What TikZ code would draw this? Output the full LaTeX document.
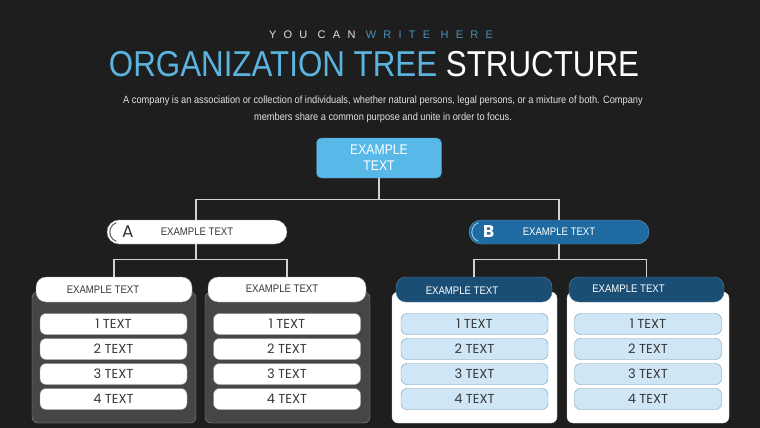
\documentclass[tikz,border=0pt]{standalone}
\usepackage{fontspec}
\setmainfont{Liberation Sans}
\newfontfamily\narrowfont[FakeStretch=0.87]{Liberation Sans}
\newfontfamily\parafont[FakeStretch=0.88]{Liberation Sans}
\newfontfamily\spacedfont[LetterSpace=66]{Liberation Sans}
\newfontfamily\geofont{Poppins}
\usetikzlibrary{calc}
\definecolor{bgdark}{RGB}{30,30,30}
\definecolor{titleblue}{RGB}{91,180,222}
\definecolor{subblue}{RGB}{74,144,184}
\definecolor{paragray}{RGB}{225,225,225}
\definecolor{linegray}{RGB}{210,210,210}
\definecolor{topfill}{RGB}{88,185,232}
\definecolor{barblue}{RGB}{31,106,160}
\definecolor{headblue}{RGB}{26,78,116}
\definecolor{itemblue}{RGB}{207,230,246}
\definecolor{itemedge}{RGB}{112,152,176}
\definecolor{panelgray}{RGB}{70,70,70}
\definecolor{paneledge}{RGB}{150,150,150}
\definecolor{darktext}{RGB}{55,55,55}

\begin{document}
\begin{tikzpicture}[x=1pt,y=-1pt,
    conn/.style={draw=linegray, line width=1.2pt},
    topbox/.style={fill=topfill, draw=topfill!80!black, rounded corners=5pt, minimum width=125pt,
      minimum height=40pt, align=center, text=white, font=\narrowfont\fontsize{14}{16}\selectfont},
    barA/.style={fill=white, draw=paneledge, rounded corners=12pt, minimum width=180pt, minimum height=24pt,
      text=darktext, font=\narrowfont\fontsize{11}{12}\selectfont},
    barB/.style={barA, fill=barblue, draw=barblue!70!white, text=white},
    panelA/.style={fill=panelgray, draw=paneledge, rounded corners=6pt, minimum height=131pt},
    panelB/.style={panelA, fill=white, draw=linegray},
    headA/.style={fill=white, draw=paneledge, rounded corners=10pt, minimum height=25pt},
    headB/.style={headA, fill=headblue, draw=headblue!70!white},
    headtext/.style={font=\narrowfont\fontsize{11}{12}\selectfont},
    itemA/.style={fill=white, draw=paneledge, rounded corners=6pt, minimum width=147pt, minimum height=21pt,
      text=darktext, font=\geofont\fontsize{13}{13}\selectfont},
    itemB/.style={itemA, fill=itemblue, draw=itemedge}]
  \fill[bgdark] (0,0) rectangle (760,428);
  \useasboundingbox (0,0) rectangle (760,428);

  \node[anchor=base, text=paragray, font=\spacedfont\fontsize{11}{13}\selectfont] (sub) at (381,39)
    {YOU CAN \textcolor{subblue}{WRITE HERE}};
  \node[anchor=base, font=\narrowfont\fontsize{36}{40}\selectfont] (title) at (374,77)
    {\textcolor{titleblue}{ORGANIZATION TREE} \textcolor{white}{STRUCTURE}};
  \node[anchor=north, align=center, text=paragray, font=\parafont\fontsize{10.5}{17}\selectfont, inner sep=0pt] (para) at (383,96)
    {A company is an association or collection of individuals, whether natural persons, legal persons, or a mixture of both. Company\\
     members share a common purpose and unite in order to focus.};

  \node[topbox] (top) at (379,158) {EXAMPLE\\TEXT};

  \node[barA] (barA) at (197,232) {EXAMPLE TEXT};
  \node[barB] (barB) at (559,232) {EXAMPLE TEXT};
  \draw[paneledge!60!black, line width=1pt] ([xshift=13]barA.west) ++(110:10) arc[start angle=110, end angle=250, radius=10];
  \draw[titleblue!70!white, line width=1pt] ([xshift=13]barB.west) ++(110:10) arc[start angle=110, end angle=250, radius=10];
  \node[text=darktext, font=\geofont\fontsize{17}{17}\selectfont] (letA) at ([xshift=21]barA.west) {A};
  \node[text=white, font=\geofont\bfseries\fontsize{17}{17}\selectfont] (letB) at ([xshift=20]barB.west) {B};

  \node[panelA, minimum width=164pt] (panA1) at (114,357.5) {};
  \node[panelA, minimum width=165pt] (panA2) at (287.5,357.5) {};
  \node[panelB, minimum width=165pt] (panB1) at (474.5,357.5) {};
  \node[panelB, minimum width=162pt] (panB2) at (648,357.5) {};

  \node[headA, minimum width=156pt] (headA1) at (114,289.5) {};
  \node[headA, minimum width=158pt] (headA2) at (287,289.5) {};
  \node[headB, minimum width=156pt] (headB1) at (474,289.5) {};
  \node[headB, minimum width=155pt] (headB2) at (646.5,289.5) {};
  \node[headtext, text=darktext] (htA1) at ([xshift=-11]headA1.center) {EXAMPLE TEXT};
  \node[headtext, text=darktext] (htA2) at ([xshift=-5,yshift=1]headA2.center) {EXAMPLE TEXT};
  \node[headtext, text=white] (htB1) at ([xshift=-12,yshift=-1]headB1.center) {EXAMPLE TEXT};
  \node[headtext, text=white] (htB2) at ([xshift=-18,yshift=1]headB2.center) {EXAMPLE TEXT};

  \foreach \p/\cx in {A1/113.5, A2/287} {
    \foreach \i in {1,...,4}
      \node[itemA] (item\p\i) at (\cx, 299+25*\i) {\i\ TEXT};
  }
  \foreach \p/\cx in {B1/474.5, B2/648} {
    \foreach \i in {1,...,4}
      \node[itemB] (item\p\i) at (\cx, 299+25*\i) {\i\ TEXT};
  }

  \draw[conn] (top.south) -- ++(0,21) coordinate (j0) -| ([xshift=-1]barA.north);
  \draw[conn] (j0) -| (barB.north);
  \draw[conn] ([xshift=-1]barA.south) -- ++(0,15) coordinate (jA) -| (headA1.north);
  \draw[conn] (jA) -| (headA2.north);
  \draw[conn] (barB.south) -- ++(0,15) coordinate (jB) -| (headB1.north);
  \draw[conn] (jB) -| (headB2.north);
\end{tikzpicture}
\end{document}
